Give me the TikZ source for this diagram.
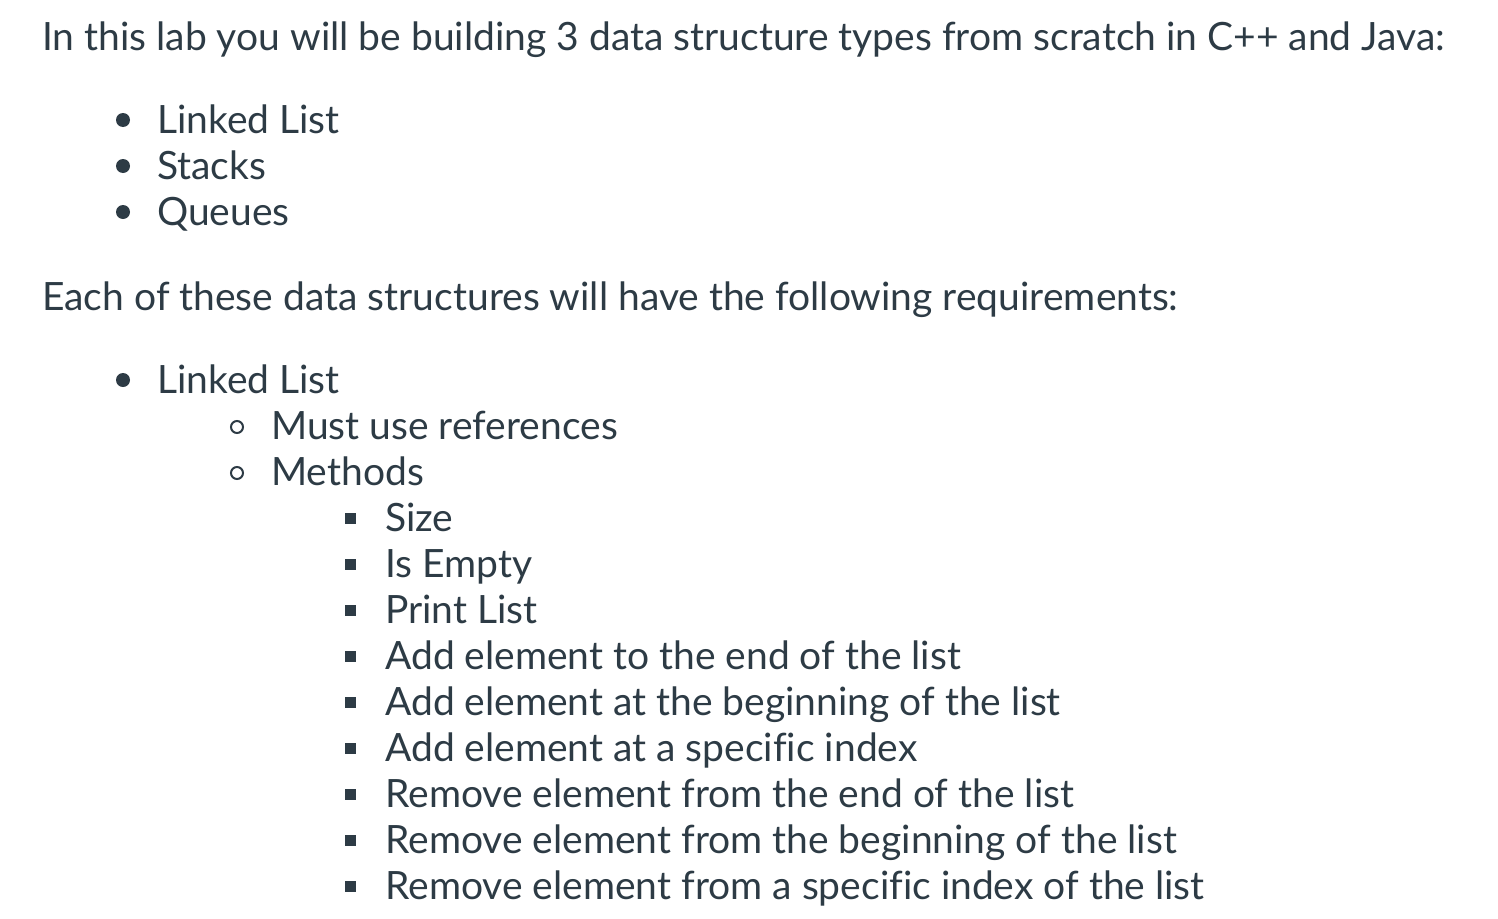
\documentclass[tikz,border=0pt]{standalone}
\usepackage{fontspec}
\setmainfont[Ligatures=NoCommon]{Lato}
\definecolor{txt}{HTML}{2D3B45}
\begin{document}
\begin{tikzpicture}[x=1pt,y=-1pt,
  t/.style={anchor=base west,inner sep=0pt,text=txt,font=\fontsize{39}{46}\selectfont},
  b1/.style={fill=txt,draw=none},
  b2/.style={draw=txt,line width=2pt,fill=none},
  b3/.style={fill=txt,draw=none}]
\useasboundingbox (0,0) rectangle (1498,918);
\node[t] (l1) at (42,50) {In this lab you will be building 3 data structure types from scratch in C++ and Java:};
\foreach \y/\s [count=\i] in {133/Linked List,179/Stacks,225/Queues}{
  \fill[b1] (123,\y-13) circle (7);
  \node[t] (a\i) at (157,\y) {\s};
}
\node[t] (l2) at (42,310) {Each of these data structures will have the following requirements:};
\fill[b1] (123,380) circle (7);
\node[t] (ll) at (157,393) {Linked List};
\foreach \y/\s [count=\i] in {439/Must use references,485/Methods}{
  \draw[b2] (237,\y-12) circle (6);
  \node[t] (m\i) at (271,\y) {\s};
}
\foreach \y/\s [count=\i] in {531/Size,577/Is Empty,623/Print List,669/Add element to the end of the list,715/Add element at the beginning of the list,761/Add element at a specific index,807/Remove element from the end of the list,853/Remove element from the beginning of the list,899/Remove element from a specific index of the list}{
  \fill[b3] (345,\y-18) rectangle ++(11,11);
  \node[t] (s\i) at (385,\y) {\s};
}
\end{tikzpicture}
\end{document}
